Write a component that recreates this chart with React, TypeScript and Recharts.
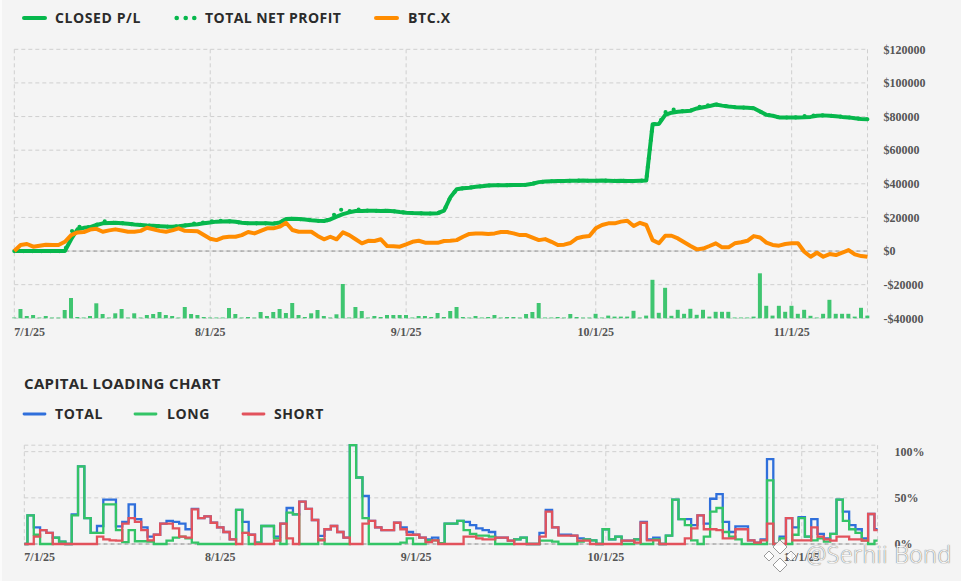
import React from 'react';
import { ComposedChart, Line, Bar, XAxis, YAxis, CartesianGrid, ReferenceLine } from 'recharts';

// ---------- categories / ticks ----------
const tickDays = [0, 31, 62, 92, 123];
const tickLabels = ['7/1/25', '8/1/25', '9/1/25', '10/1/25', '11/1/25'];
const pnlTicks = [-40000, -20000, 0, 20000, 40000, 60000, 80000, 100000, 120000];
const loadTicks = [0, 50, 100];

// ---------- series (one value per day from 7/1/25) ----------
const closedPL = [
  0, 0, 0, 0, 0, 0, 0, 0, 0, 7000,
  13000, 13800, 14200, 15500, 16500, 16700, 16800, 16600, 16300, 15800,
  15500, 15200, 15000, 14800, 14600, 14500, 14700, 15200, 15600, 16000,
  16500, 17000, 17500, 17600, 17700, 17400, 16800, 16500, 16500, 16500,
  16500, 16300, 17000, 19000, 19200, 19000, 18700, 18300, 18000, 17900,
  18800, 20500, 22000, 23000, 23800, 23800, 23900, 24000, 23800, 23900,
  23700, 23200, 22800, 22600, 22500, 22400, 22300, 22500, 24000, 32000,
  36700, 37300, 37700, 38200, 38600, 39000, 39100, 39200, 39200, 39300,
  39300, 39400, 40000, 41000, 41300, 41500, 41600, 41700, 41800, 41800,
  41900, 41800, 41800, 41900, 41800, 41700, 41800, 41700, 41600, 41800,
  42000, 75400, 75600, 81000, 82300, 82800, 83200, 83500, 84800, 85500,
  86200, 87200, 86500, 86000, 85600, 85400, 85200, 85000, 83000, 81000,
  80500, 79500, 79400, 79500, 79500, 79600, 79800, 80500, 80700, 80500,
  80200, 79800, 79500, 79000, 78600, 78400,
];

const totalNetProfit = [
  0, 0, 0, 0, 0, 0, 0, 0, 0, 11500,
  14500, 14300, 14200, 15500, 18000, 16700, 16800, 16600, 16300, 15800,
  15500, 15200, 15000, 14800, 14600, 14500, 14700, 15200, 16000, 16800,
  17000, 17500, 18400, 17800, 17700, 17400, 16800, 16500, 16500, 16500,
  16500, 16300, 17000, 19000, 19200, 19000, 18700, 18300, 18000, 17900,
  18800, 23500, 25000, 23800, 24300, 25000, 23900, 24000, 23800, 23900,
  23700, 23200, 22800, 22600, 22500, 22400, 22300, 22500, 24000, 32000,
  36700, 37300, 37700, 38200, 38600, 39000, 39100, 39200, 39200, 39300,
  39300, 39400, 40000, 41000, 41300, 41500, 41600, 41700, 41800, 41800,
  41900, 41800, 41800, 41900, 41800, 41700, 41800, 41700, 41600, 41800,
  42000, 75400, 75600, 82500, 84500, 83200, 83200, 83500, 84800, 87000,
  86500, 87200, 86500, 86000, 85600, 85400, 85200, 85000, 83000, 81000,
  80500, 79500, 79400, 79500, 79500, 80200, 80500, 80500, 80700, 80500,
  80200, 79800, 79500, 79000, 78600, 78400,
];

const btcX = [
  0, 3600, 4200, 2600, 3200, 3800, 3600, 3600, 5500, 9500,
  11100, 11300, 12800, 13200, 11500, 12300, 12900, 12200, 11500, 11500,
  12000, 13900, 13000, 12000, 11500, 12300, 13500, 12000, 11900, 11800,
  9500, 7300, 6500, 8000, 8500, 8500, 9500, 11300, 10500, 12000,
  13500, 13500, 14500, 16800, 12500, 11500, 11500, 11500, 9000, 7000,
  8500, 7000, 11100, 9500, 7000, 4600, 6100, 6000, 7000, 3000,
  2800, 2600, 4000, 5500, 6100, 5000, 4900, 4900, 6000, 6100,
  6500, 8500, 10200, 10400, 10500, 10100, 10500, 11300, 11300, 10500,
  9500, 9500, 8000, 6500, 7100, 5500, 3600, 3800, 4800, 7600,
  8500, 9000, 13500, 15500, 16500, 16500, 17500, 18000, 14900, 16800,
  15500, 6500, 4600, 9100, 9100, 7500, 5200, 3000, 1000, 1500,
  3000, 4600, 2200, 2200, 4600, 5200, 6100, 8900, 8100, 5000,
  3600, 3200, 4200, 4600, 4600, -400, -3400, -1000, -3400, -1800,
  -2400, -1000, 600, -2000, -3000, -3400,
];

const tradeVolume = [
  0.8, 9.3, 2.3, 3.3, 0.8, 2.3, 0.8, 0.8, 8.3, 20.3,
  1.3, 0.8, 2.3, 15, 4.3, 0.8, 5, 9.3, 0.8, 5,
  0.8, 3.3, 4.3, 6.3, 3.3, 2.3, 0.8, 11.3, 4.3, 3.3,
  1.3, 0.8, 0.8, 0.8, 10.3, 4.3, 0.8, 1.3, 0.8, 6.3,
  2.3, 6.3, 9.3, 5.3, 15.3, 3.3, 1.3, 5, 8.3, 2.3,
  0.8, 4, 34.3, 0.8, 11.3, 7.3, 0.8, 2.3, 1.3, 3.3,
  3.3, 3.3, 3.3, 0.8, 2.3, 2.3, 1.3, 5.3, 1.3, 7.3,
  11.3, 1.3, 0.8, 2.3, 0.8, 1.3, 3.3, 0.8, 1.3, 1.3,
  0.8, 4.3, 6.3, 15.3, 0.8, 0.8, 1.3, 0.8, 4.3, 1.3,
  0.8, 0.8, 4.5, 0.8, 2.7, 1.7, 1.7, 1.7, 7.5, 0.8,
  2.7, 38.5, 5.5, 30.5, 2.5, 8.5, 4.5, 9.5, 3.5, 8.5,
  1.7, 6.5, 6.5, 6.5, 0.8, 0.8, 0.8, 1.7, 45, 12.5,
  2.7, 12.5, 6.5, 12.5, 4.5, 8.5, 2.5, 0.8, 4.5, 18.5,
  4.5, 4.5, 4.5, 1.7, 10.5, 2.7,
];

const loadTotal = [
  0, 31, 18, 15, 12, 7, 2.5, 0, 32, 84,
  28, 12, 19.5, 48, 48, 19, 24, 43, 27, 18,
  8, 10, 22, 25, 24, 22, 16, 38, 28, 30,
  23, 18, 13, 5, 37, 24, 10, 1.5, 19.5, 19.5,
  8, 22, 39, 32, 46, 38, 26, 8.7, 16, 19.5,
  13, 7, 107, 72, 52, 25, 18, 15, 15, 23,
  18, 13, 10, 7, 5, 7, 1, 22, 22, 25,
  24, 20.5, 17, 15, 13, 7, 7, 3.6, 5, 7,
  0, 0, 12, 37, 18, 10, 10, 9, 6, 5,
  4, 0, 16, 5, 8, 3.6, 3.6, 5, 24, 5,
  7, 0, 9, 48, 27, 27, 20.5, 31, 22, 49,
  54, 24, 13, 19, 19, 4, 1.5, 5, 92, 0,
  8, 28, 18, 29, 8, 27, 11, 6, 11, 48,
  35, 20.5, 16, 6, 32.5, 16,
];

const loadLong = [
  0, 31, 10, 0, 0, 7, 2.5, 0, 31, 84,
  28, 12, 12, 43, 43, 15, 2, 15, 3, 3,
  2.5, 0, 0, 3.6, 7, 8, 6, 1.5, 0, 0,
  0, 0, 0, 0, 37, 12, 0, 1.5, 19.5, 19.5,
  6, 0, 34, 32, 0, 0, 0, 5, 0, 0,
  0, 0, 107, 72, 28, 0, 0, 0, 0, 0,
  1.5, 6, 0, 0, 4, 4, 1, 22, 22, 25,
  15, 11, 9, 9, 8, 0, 0, 0, 5, 7,
  0, 0, 3.6, 3.6, 2.5, 0, 0, 0, 2.5, 5,
  4, 0, 16, 5, 8, 0, 0, 5, 0, 0,
  5, 0, 9, 48, 27, 20.5, 4, 0, 8, 35,
  39, 13, 8, 5, 0, 0, 0, 0, 69, 0,
  6, 0, 10, 28, 8, 4, 6, 2.5, 11, 48,
  25, 16, 12, 4, 0, 3.6,
];

const loadShort = [
  0, 0, 8, 15, 12, 0, 0, 0, 0, 0,
  0, 0, 8, 5, 4, 3.6, 22, 28, 24, 15,
  4, 10, 22, 22, 17, 8, 7, 37.5, 28, 30,
  23, 18, 13, 5, 0, 12, 10, 0, 0, 0,
  3.6, 22, 6, 0, 46, 38, 26, 4, 16, 19.5,
  13, 7, 0, 0, 22, 25, 18, 15, 15, 23,
  16, 10, 10, 7, 2, 4, 0, 0, 0, 0,
  8, 8, 6, 5, 5, 7, 7, 3.6, 0, 0,
  0, 0, 8, 35, 18, 9, 9, 9, 3.6, 3.6,
  0, 0, 0, 0, 0, 3.6, 3.6, 1.5, 23, 4,
  4, 0, 0, 0, 0, 6, 17, 31, 16, 16,
  15, 6, 6, 16, 16, 4, 1.5, 4, 22, 0,
  0, 28, 4, 4, 4, 18, 8, 5, 3.6, 8,
  8, 5, 5, 3.6, 32.5, 15,
];

const pnlData = closedPL.map((v, i) => ({
  day: i,
  closed: v,
  net: totalNetProfit[i],
  btc: btcX[i],
  vol: tradeVolume[i],
}));

const loadData = loadTotal.map((v, i) => ({
  day: i,
  total: v,
  long: loadLong[i],
  short: loadShort[i],
}));

// ---------- styles ----------
const GREEN = '#06b74c';
const BAR_GREEN = '#3fc570';
const ORANGE = '#ff8c00';
const BLUE = '#2f6fdb';
const LGREEN = '#33c466';
const RED = '#e2525c';
const GRID = '#cfcfcf';
const AXIS_TEXT = '#555';
const SERIF = "'Liberation Serif', 'Times New Roman', serif";
const SANS = "'Open Sans', 'Noto Sans', sans-serif";

const DateTick = (props: any) => {
  const { x, y, payload } = props;
  const idx = tickDays.indexOf(payload.value);
  return (
    <text
      x={x}
      y={y}
      dy="0.71em"
      textAnchor={payload.value === 0 ? 'start' : 'middle'}
      fill={AXIS_TEXT}
      style={{ fontFamily: SERIF, fontWeight: 700, fontSize: 12 }}
    >
      {tickLabels[idx]}
    </text>
  );
};

const ValueTick = (props: any) => {
  const { x, y, payload, suffix } = props;
  const v = payload.value as number;
  const label = suffix ? v + '%' : v < 0 ? '-$' + Math.abs(v) : '$' + v;
  return (
    <text
      x={x}
      y={y}
      dy="0.355em"
      textAnchor="start"
      fill={AXIS_TEXT}
      style={{ fontFamily: SERIF, fontWeight: 700, fontSize: 12 }}
    >
      {label}
    </text>
  );
};

const legendText: React.CSSProperties = {
  position: 'absolute',
  fontFamily: SANS,
  fontWeight: 700,
  fontSize: 14,
  letterSpacing: 0.6,
  color: '#2b2b2b',
  lineHeight: '20px',
  whiteSpace: 'nowrap',
};

const LineIcon = ({ left, top, color, width }: { left: number; top: number; color: string; width: number }) => (
  <svg style={{ position: 'absolute', left: left - 3, top: top - 4 }} width={27} height={8}>
    <line x1={3} y1={4} x2={24} y2={4} stroke={color} strokeWidth={width} strokeLinecap="round" />
  </svg>
);

export default function App() {
  return (
    <div style={{ position: 'absolute', left: 0, top: 0, width: 961, height: 581, overflow: 'hidden', background: '#fbfbfb' }}>
      <div style={{ position: 'absolute', left: 2, top: 0, width: 959, height: 581, background: '#f4f4f4' }} />

      {/* top legend */}
      <LineIcon left={24} top={18} color={GREEN} width={4} />
      <div style={{ ...legendText, left: 55, top: 8 }}>CLOSED P/L</div>
      <svg style={{ position: 'absolute', left: 172, top: 14 }} width={28} height={8}>
        <circle cx={4.7} cy={4} r={2.3} fill={GREEN} />
        <circle cx={13.7} cy={4} r={2.3} fill={GREEN} />
        <circle cx={22.3} cy={4} r={2.3} fill={GREEN} />
      </svg>
      <div style={{ ...legendText, left: 205, top: 8, letterSpacing: 0.45 }}>TOTAL NET PROFIT</div>
      <LineIcon left={376} top={18} color={ORANGE} width={4} />
      <div style={{ ...legendText, left: 408, top: 8 }}>BTC.X</div>

      {/* top chart */}
      <div style={{ position: 'absolute', left: 0, top: 0 }}>
        <ComposedChart
          width={961}
          height={345}
          data={pnlData}
          margin={{ top: 49.3, right: 13.5, left: 14.3, bottom: 6.7 }}
        >
          <CartesianGrid stroke={GRID} strokeDasharray="4 3" />
          <XAxis
            dataKey="day"
            type="number"
            domain={[0, 135]}
            ticks={tickDays}
            interval={0}
            axisLine={false}
            tickLine={false}
            tickSize={0}
            tickMargin={9}
            height={20}
            tick={<DateTick />}
          />
          <YAxis
            orientation="right"
            domain={[-40000, 120000]}
            ticks={pnlTicks}
            interval={0}
            axisLine={false}
            tickLine={false}
            tickSize={0}
            tickMargin={16}
            width={80}
            tick={<ValueTick />}
          />
          <YAxis yAxisId="vol" hide domain={[0, 269]} />
          <ReferenceLine y={0} stroke="#8a8a8a" strokeDasharray="4 3" />
          <Bar yAxisId="vol" dataKey="vol" barSize={4} fill={BAR_GREEN} isAnimationActive={false} />
          <Line
            dataKey="net"
            type="linear"
            stroke={GREEN}
            strokeWidth={4.2}
            strokeDasharray="0 9"
            strokeLinecap="round"
            dot={false}
            activeDot={false}
            isAnimationActive={false}
          />
          <Line
            dataKey="closed"
            type="linear"
            stroke={GREEN}
            strokeWidth={4}
            strokeLinejoin="round"
            dot={false}
            activeDot={false}
            isAnimationActive={false}
          />
          <Line
            dataKey="btc"
            type="linear"
            stroke={ORANGE}
            strokeWidth={4}
            strokeLinejoin="round"
            dot={false}
            activeDot={false}
            isAnimationActive={false}
          />
        </ComposedChart>
      </div>

      {/* capital loading title + legend */}
      <div style={{ ...legendText, left: 24, top: 371, fontSize: 15, letterSpacing: 0.35, lineHeight: '24px' }}>
        CAPITAL LOADING CHART
      </div>
      <LineIcon left={24} top={414} color={BLUE} width={2.8} />
      <div style={{ ...legendText, left: 55, top: 404 }}>TOTAL</div>
      <LineIcon left={135} top={414} color={LGREEN} width={2.8} />
      <div style={{ ...legendText, left: 167, top: 404 }}>LONG</div>
      <LineIcon left={243} top={414} color={RED} width={2.8} />
      <div style={{ ...legendText, left: 274, top: 404 }}>SHORT</div>

      {/* bottom chart */}
      <div style={{ position: 'absolute', left: 0, top: 430 }}>
        <ComposedChart
          width={961}
          height={140}
          data={loadData}
          margin={{ top: 15.2, right: 3.4, left: 24.3, bottom: 6 }}
        >
          <CartesianGrid stroke={GRID} strokeDasharray="4 3" />
          <XAxis
            dataKey="day"
            type="number"
            domain={[0, 135]}
            ticks={tickDays}
            interval={0}
            axisLine={false}
            tickLine={false}
            tickSize={0}
            tickMargin={8}
            height={20}
            tick={<DateTick />}
          />
          <YAxis
            orientation="right"
            domain={[0, 107]}
            ticks={loadTicks}
            interval={0}
            axisLine={false}
            tickLine={false}
            tickSize={0}
            tickMargin={17}
            width={80}
            tick={<ValueTick suffix />}
          />
          <ReferenceLine y={0} stroke="#8a8a8a" strokeDasharray="4 3" />
          <Line dataKey="total" type="step" stroke={BLUE} strokeWidth={2.3} dot={false} activeDot={false} isAnimationActive={false} />
          <Line dataKey="long" type="step" stroke={LGREEN} strokeWidth={2.3} dot={false} activeDot={false} isAnimationActive={false} />
          <Line dataKey="short" type="step" stroke={RED} strokeWidth={2.3} dot={false} activeDot={false} isAnimationActive={false} />
        </ComposedChart>
      </div>

      {/* watermark */}
      <svg style={{ position: 'absolute', left: 760, top: 537 }} width={40} height={36}>
        <g fill="rgba(255,255,255,0.9)" stroke="#9a9a9a" strokeWidth={1}>
          <path d="M20 3 L27 10 L20 17 L13 10 Z" />
          <path d="M9 14 L14 19 L9 24 L4 19 Z" />
          <path d="M31 14 L36 19 L31 24 L26 19 Z" />
          <path d="M20 21 L27 28 L20 35 L13 28 Z" />
        </g>
      </svg>
      <div
        style={{
          position: 'absolute',
          left: 806,
          top: 538,
          fontFamily: SANS,
          fontSize: 23,
          fontWeight: 300,
          color: 'rgba(255,255,255,0.95)',
          textShadow: '0 0 1px #777, 0 0 1px #777',
          whiteSpace: 'nowrap',
          letterSpacing: 0.5,
        }}
      >
        @Serhii Bond
      </div>
    </div>
  );
}
